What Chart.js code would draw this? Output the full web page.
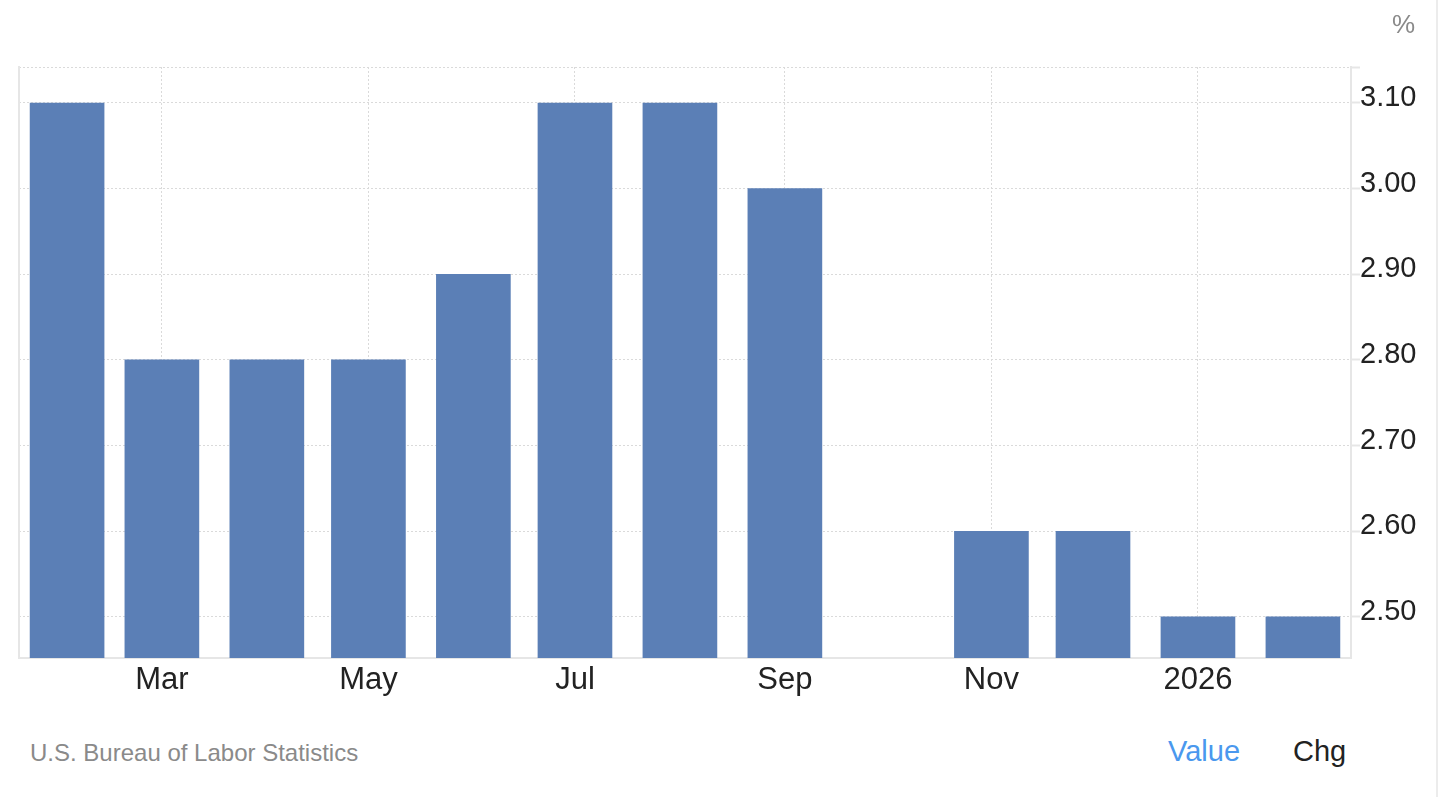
<!DOCTYPE html>
<html>
<head>
<meta charset="utf-8">
<script src="https://cdn.jsdelivr.net/npm/chart.js@4"></script>
<style>
  html, body { margin: 0; padding: 0; background: #fff; }
  body { width: 1443px; height: 797px; position: relative; overflow: hidden;
         font-family: "Liberation Sans", Arial, Helvetica, sans-serif; }
  #wrap { position: absolute; left: 0; top: 0; width: 1443px; height: 700px; }
  #unit { position: absolute; left: 1392px; top: 9px; font-size: 26px; color: #8a8a8a; }
  #source { position: absolute; left: 30px; top: 739px; font-size: 24px; color: #8a8a8a; }
  #value { position: absolute; left: 1168px; top: 735px; font-size: 29px; color: #4a98ee; }
  #chg { position: absolute; left: 1293px; top: 735px; font-size: 29px; color: #222; }
  #edge { position: absolute; left: 1436px; top: 0; width: 2px; height: 797px; background: #ececec; }
</style>
</head>
<body>
<div id="wrap"><canvas id="myChart"></canvas></div>
<div id="unit">%</div>
<div id="source">U.S. Bureau of Labor Statistics</div>
<div id="value">Value</div>
<div id="chg">Chg</div>
<div id="edge"></div>
<script>
// monthly readings Feb 2025 .. Feb 2026, no release for Oct 2025
const categories = ['2025-02', '2025-03', '2025-04', '2025-05', '2025-06', '2025-07', '2025-08',
  '2025-09', '2025-10', '2025-11', '2025-12', '2026-01', '2026-02'];
const values = [3.1, 2.8, 2.8, 2.8, 2.9, 3.1, 3.1, 3.0, null, 2.6, 2.6, 2.5, 2.5];
const xTickDates = ['2025-03', '2025-05', '2025-07', '2025-09', '2025-11', '2026-01'];
const xTickLabels = ['Mar', 'May', 'Jul', 'Sep', 'Nov', '2026'];
const yTicks = [2.5, 2.6, 2.7, 2.8, 2.9, 3.0, 3.1];
const yMin = 2.452;
const yMax = 3.142;

// x axis is in days from the first month, like a time axis
const dayOf = s => {
  const [y, m] = s.split('-').map(Number);
  return (Date.UTC(y, m - 1, 1) - Date.UTC(2025, 1, 1)) / 86400000;
};
const xTickDays = xTickDates.map(dayOf);

const barColor = '#5b7fb6';
const gridColor = '#dadada';
const axisColor = '#e6e6e6';
const fontFamily = '"Liberation Sans", Arial, Helvetica, sans-serif';

const ctx = document.getElementById('myChart').getContext('2d');
new Chart(ctx, {
  type: 'bar',
  data: {
    datasets: [{
      data: categories.map((c, i) => ({ x: dayOf(c), y: values[i] })),
      backgroundColor: barColor,
      borderWidth: 0,
      barThickness: 74
    }]
  },
  options: {
    responsive: true,
    maintainAspectRatio: false,
    animation: false,
    layout: { padding: { left: 19, top: 67, right: 0, bottom: 0 } },
    plugins: {
      legend: { display: false },
      tooltip: { enabled: false }
    },
    scales: {
      x: {
        type: 'linear',
        min: -14.2,
        max: 379.2,
        offset: false,
        afterBuildTicks: s => { s.ticks = xTickDays.map(v => ({ value: v })); },
        grid: { offset: false, color: gridColor, drawTicks: false },
        border: { display: true, color: axisColor, width: 2, dash: [2, 2] },
        ticks: {
          autoSkip: false,
          maxRotation: 0,
          padding: 4,
          color: '#222',
          font: { family: fontFamily, size: 31 },
          callback: v => xTickLabels[xTickDays.indexOf(v)] || ''
        },
        afterFit: s => { s.height = 42; }
      },
      y: {
        position: 'right',
        min: yMin,
        max: yMax,
        afterBuildTicks: s => {
          s.ticks = yTicks.map(v => ({ value: v })).concat([{ value: yMax }]);
        },
        grid: { color: gridColor, tickColor: axisColor, tickLength: 9, tickWidth: 2 },
        border: { display: true, color: axisColor, width: 2, dash: [2, 2] },
        ticks: {
          padding: 0,
          labelOffset: -5,
          color: '#222',
          font: { family: fontFamily, size: 29 },
          callback: v => (yTicks.includes(v) ? v.toFixed(2) : '')
        },
        afterFit: s => { s.width = 92; }
      },
      yLeft: {
        position: 'left',
        min: yMin,
        max: yMax,
        grid: { display: false, drawTicks: false },
        border: { display: true, color: axisColor, width: 2 },
        ticks: { display: false },
        afterFit: s => { s.width = 0; }
      }
    }
  }
});
</script>
</body>
</html>
